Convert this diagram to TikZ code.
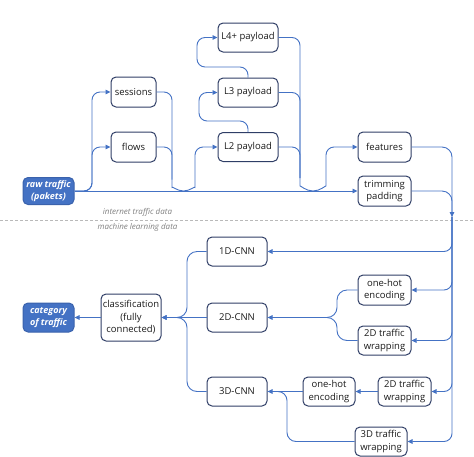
\documentclass[tikz,border=0pt]{standalone}
\usepackage{fontspec}
\setmainfont{Open Sans}
\usetikzlibrary{arrows.meta}
\definecolor{flowblue}{HTML}{4472C4}
\definecolor{boxedge}{HTML}{2F3E66}
\definecolor{darkedge}{HTML}{3A62AC}
\definecolor{txt}{HTML}{1A1A1A}

\begin{document}
\begin{tikzpicture}[x=1pt, y=-1pt,
    box/.style={draw=boxedge, line width=1pt, rounded corners=5pt, align=center, inner sep=0pt, text=txt, font=\fontsize{9.5}{12.5}\selectfont},
    dark/.style={box, fill=flowblue, draw=darkedge, text=white, font=\fontsize{9}{12}\selectfont\bfseries\itshape},
    flow/.style={flowblue, line width=0.9pt, rounded corners=8pt},
    tip/.style={-{Triangle[length=5pt,width=4.5pt]}},
    note/.style={text=gray, font=\fontsize{8}{9}\selectfont\itshape}]
    \useasboundingbox (0,0) rectangle (474,456);

    % internet traffic data
    \node [dark, minimum width=51pt, minimum height=27pt] at (48.5, 191) (raw) {raw traffic\\(pakets)};
    \node [box, minimum width=45pt, minimum height=30pt] at (133.5, 92) (sess) {sessions};
    \node [box, minimum width=45pt, minimum height=30pt] at (133.5, 147) (flows) {flows};
    \node [box, minimum width=60pt, minimum height=29pt] at (248, 37.5) (l4) {L4+ payload};
    \node [box, minimum width=60pt, minimum height=29pt] at (248, 92.5) (l3) {L3 payload};
    \node [box, minimum width=60pt, minimum height=29pt] at (248, 147) (l2) {L2 payload};
    \node [box, minimum width=53pt, minimum height=30pt] at (384.5, 147) (feat) {features};
    \node [box, minimum width=53pt, minimum height=30pt] at (384.5, 191) (trim) {trimming\\padding};

    \coordinate (SU) at (92, 92);
    \coordinate (FU) at (92, 147);
    \coordinate (PD) at (172, 179.5);
    \coordinate (L3B) at (199, 121);
    \coordinate (L4B) at (197, 67);
    \coordinate (QD) at (300, 178);
    \coordinate (TA) at (452, 217);

    \draw [flow, tip] (raw.east) -| (SU) -- (sess.west);
    \draw [flow, tip] (raw.east) -| (FU) -- (flows.west);
    \draw [flow, tip] (sess.east) -| (PD) arc [start angle=180, end angle=360, radius=11.5pt] |- (l2.west);
    \draw [flow] (flows.east) -| (PD);
    \draw [flow, tip] (l2.north) |- (L3B) |- (l3.west);
    \draw [flow, tip] (l3.north) |- (L4B) |- (l4.west);
    \draw [flow, tip] (l4.east) -| (QD) arc [start angle=180, end angle=360, radius=13pt] |- (feat.west);
    \draw [flow] (l3.east) -| (QD);
    \draw [flow] (l2.east) -| (QD);
    \draw [flow, tip] (raw.east) -- (trim.west);
    \draw [flow, tip, rounded corners=10pt] (feat.east) -| (TA);
    \draw [flow, rounded corners=10pt] (trim.east) -| (TA);

    \draw [gray!55, line width=0.8pt, dash pattern=on 3pt off 2pt] (0, 220) -- (474, 220);
    \node [note] at (137.5, 212.5) (inet) {internet traffic data};
    \node [note] at (137.5, 227.5) (mldata) {machine learning data};

    % machine learning data
    \node [dark, minimum width=51pt, minimum height=29pt] at (48.5, 317.5) (cat) {category\\of traffic};
    \node [box, minimum width=60pt, minimum height=47pt] at (131, 317.5) (cls) {classification\\(fully\\connected)};
    \node [box, minimum width=60pt, minimum height=29pt] at (237, 251.5) (cnn1) {1D-CNN};
    \node [box, minimum width=60pt, minimum height=29pt] at (237, 317.5) (cnn2) {2D-CNN};
    \node [box, minimum width=60pt, minimum height=29pt] at (237, 391.5) (cnn3) {3D-CNN};
    \node [box, minimum width=53pt, minimum height=30pt] at (384.5, 290) (oh1) {one-hot\\encoding};
    \node [box, minimum width=53pt, minimum height=29pt] at (384.5, 340.5) (wr1) {2D traffic\\wrapping};
    \node [box, minimum width=53pt, minimum height=29pt] at (404.5, 391.5) (wr2) {2D traffic\\wrapping};
    \node [box, minimum width=52pt, minimum height=29pt] at (329, 391.5) (oh2) {one-hot\\encoding};
    \node [box, minimum width=52pt, minimum height=29pt] at (381, 441.5) (wr3) {3D traffic\\wrapping};

    \coordinate (EM) at (337, 317.5);
    \coordinate (WM) at (287, 391.5);
    \coordinate (CM) at (187, 317.5);

    \draw [flow, tip] (TA) |- (cnn1.east);
    \draw [flow, tip] (TA) |- (oh1.east);
    \draw [flow, tip] (TA) |- (wr1.east);
    \draw [flow, tip] (TA) |- (wr2.east);
    \draw [flow, tip] (TA) |- (wr3.east);
    \draw [flow, tip, rounded corners=10pt] (oh1.west) -| (EM) -- (cnn2.east);
    \draw [flow, rounded corners=10pt] (wr1.west) -| (EM) -- (cnn2.east);
    \draw [flow, tip] (wr2.west) -- (oh2.east);
    \draw [flow, tip] (oh2.west) -- (cnn3.east);
    \draw [flow, rounded corners=9pt] (wr3.west) -| (WM) -- (cnn3.east);
    \draw [flow, tip, rounded corners=10pt] (cnn1.west) -| (CM) -- (cls.east);
    \draw [flow, rounded corners=10pt] (cnn3.west) -| (CM) -- (cls.east);
    \draw [flow, tip] (cnn2.west) -- (cls.east);
    \draw [flow, tip] (cls.west) -- (cat.east);
\end{tikzpicture}
\end{document}
